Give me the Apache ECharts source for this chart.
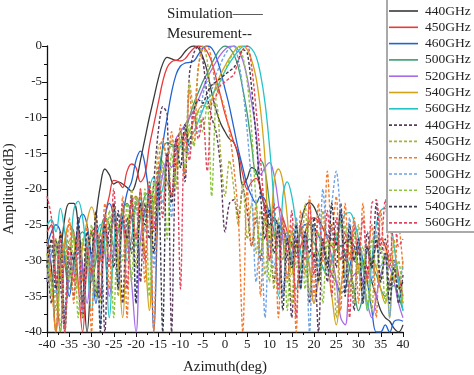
<!DOCTYPE html>
<html><head><meta charset="utf-8">
<script src="https://cdn.jsdelivr.net/npm/echarts@6/dist/echarts.min.js"></script>
<style>html,body{margin:0;padding:0;background:#fff}#c{width:474px;height:375px}</style>
</head><body><div id="c"></div>
<script>
// Azimuth samples (deg), -40..40 step 1
const azimuth = [-40,-39,-38,-37,-36,-35,-34,-33,-32,-31,-30,-29,-28,-27,-26,-25,-24,-23,-22,-21,-20,-19,-18,-17,-16,-15,-14,-13,-12,-11,-10,-9,-8,-7,-6,-5,-4,-3,-2,-1,0,1,2,3,4,5,6,7,8,9,10,11,12,13,14,15,16,17,18,19,20,21,22,23,24,25,26,27,28,29,30,31,32,33,34,35,36,37,38,39,40];
const seriesNames = ['440GHz','450GHz','460GHz','500GHz','520GHz','540GHz','560GHz'];
const xTicks = [-40,-35,-30,-25,-20,-15,-10,-5,0,5,10,15,20,25,30,35,40];
const yTicks = [-40,-35,-30,-25,-20,-15,-10,-5,0];

// Simulation (solid)
const sim440 = [-27,-31,-40,-30,-24,-22,-22,-25,-31,-40,-31,-24,-19.5,-17.2,-18,-19.3,-19,-19.3,-19.8,-20.3,-19,-16,-13,-10,-7.3,-4.6,-2.5,-1.6,-1.8,-2,-1.6,-0.8,-0.2,0,-0.3,-1.5,-3.5,-6.5,-9,-10.8,-12,-13,-13.5,-15.5,-19.5,-18.5,-17,-17.5,-20,-23,-25,-24,-25,-25.5,-27,-27.5,-29,-25,-22.5,-21.9,-22.5,-24,-25.5,-26.5,-27,-27.5,-28,-27.5,-27,-28,-29,-30,-31,-33,-35,-37,-38,-38.5,-39.5,-40,-39];
const sim450 = [-26,-25,-33,-40,-28,-25,-26,-33,-40,-30,-26,-25.5,-30,-24,-21,-18.8,-19,-19.8,-17.5,-16.5,-17,-19,-18,-14,-11,-8,-5,-3,-2.2,-2,-2.1,-1.8,-1,-0.3,0,-0.1,-0.8,-2.2,-4.5,-7,-9.5,-11.5,-13.5,-15,-18,-20,-19,-18.5,-20,-22.5,-24,-23,-22.5,-24,-26,-28,-29.5,-28,-26,-24.5,-24,-24.5,-25.5,-27,-28,-28.5,-28,-28.5,-29,-30,-30.5,-31,-32,-30,-28,-27,-28,-30,-30,-32,-35];
const sim460 = [-28,-26,-25,-26,-30,-35,-30,-25,-23.5,-25,-30,-36,-29,-24,-22,-24,-30,-24,-20.5,-19,-16,-14.7,-16.5,-22,-40,-22,-14,-10,-6.5,-4,-2.8,-2.4,-2.3,-2.1,-1.2,-0.3,0,-0.3,-1.5,-3.5,-6,-8.5,-11.5,-14.5,-17,-19.5,-21,-22,-21,-21.5,-23.5,-24.5,-25,-26,-27,-29,-28,-26,-25,-25,-25.5,-26.5,-28,-30,-32,-33,-34.5,-34,-31,-28.5,-28,-30,-33,-37,-40,-40,-39,-40,-38.5,-38.3,-38.5];
const sim500 = [-30,-33,-29,-27,-29,-34,-31,-27,-26,-28,-33,-30,-26,-24,-25,-28,-26,-23,-22,-24,-28,-24,-21,-20.5,-22,-18,-14.5,-13.5,-13.8,-14,-13.5,-12,-10,-8,-6.5,-5,-3.8,-2.5,-1.3,-0.4,0,-0.3,-1.2,-3,-6,-9.5,-14,-18,-16,-17.5,-22,-26,-28,-27,-27.5,-30,-34,-31,-28,-27,-27.5,-29,-31,-32,-30,-28.5,-28,-29,-31,-34,-37,-35,-32,-31,-32,-34,-35,-34,-33.5,-35,-37];
const sim520 = [-33,-29,-28,-31,-37,-32,-29,-28.5,-31,-36,-30,-27,-26.5,-29,-35,-29,-25.5,-25,-27,-33,-40,-27,-23,-22,-25,-22,-18,-16,-17,-13,-12,-11,-10,-9,-7.5,-6,-4.5,-3.3,-2.2,-1.2,-0.5,-0.05,0,-0.6,-2,-4.5,-8,-12,-18,-17,-16.3,-18,-22,-27,-32,-29,-27,-26.5,-28,-31,-36,-32,-29,-28,-29.5,-33,-38,-39,-33,-32,-31.5,-33,-36,-38,-35,-32,-30.5,-31,-33,-36,-38];
const sim540 = [-29,-33,-40,-32,-27,-25,-27,-34,-28,-24.5,-22.5,-25,-32,-27,-24,-24.5,-30,-38,-26,-22,-21,-23,-29,-37,-22,-19,-17,-19,-21,-17,-14,-13.5,-12,-10.5,-9,-8.3,-8.5,-7.5,-5.5,-4,-2.8,-1.7,-0.8,-0.1,0,-0.5,-2,-4.5,-9,-16,-30,-19,-17.2,-19,-24,-32,-28,-26,-27,-31,-36,-33,-30,-31,-35,-39,-34,-30,-28,-28.5,-31,-35,-32,-30,-31,-34,-36,-33,-31,-33,-36];
const sim560 = [-25,-24.3,-26,-22.7,-26,-30,-23,-21.7,-24,-30,-37,-28,-25,-28,-38,-28,-23.5,-25,-30,-27,-22,-21.5,-24,-20,-18.3,-21,-20,-15.5,-14,-14.5,-14,-14.5,-13,-12,-10.5,-9,-7.5,-6.8,-6,-4.8,-3.5,-2.4,-1.5,-0.7,-0.1,0,-0.4,-1.5,-4,-8,-14,-22,-35,-21,-19,-21,-25,-29,-31,-29.5,-29,-30,-31,-32,-30,-27,-25,-23.5,-23.3,-24.5,-27,-31,-37,-30,-25,-23,-22.7,-24,-28,-33,-37];

// Measurement (dashed)
const mea440 = [-30,-36,-27,-33,-40,-30,-35,-28,-38,-30,-26,-35,-27,-40,-25,-31,-23,-36,-24,-29,-21,-33,-22,-27,-19,-12,-8.5,-9.5,-40,-14,-12,-19,-4,-1,0,-2,-7,-10,-12,-17,-26,-22,-21.5,-24,-20,-23,-28,-24,-30,-22,-27,-33,-26,-35,-29,-38,-27,-33,-26,-36,-29,-40,-27,-33,-25,-31,-22,-30,-26,-37,-28,-34,-26,-31,-22,-29,-27,-34,-30,-36,-32];
const mea450 = [-31,-27,-37,-29,-40,-27,-33,-26,-38,-28,-32,-24,-36,-25,-30,-22,-35,-23,-28,-20,-31,-21,-26,-19,-24,-14,-13.5,-16,-13,-20,-12,-15,-5,-9,-3,0,-2,-8.5,-8,-15,-21,-16,-20,-25,-19,-27,-22,-29,-23,-32,-25,-34,-24,-30,-26,-36,-24,-31,-22,-35,-25,-33,-23,-30,-27,-38,-24,-32,-27,-36,-25,-31,-28,-37,-26,-33,-29,-38,-27,-34,-30];
const mea460 = [-27,-33,-40,-26,-31,-24,-36,-27,-33,-25,-40,-24,-30,-22,-34,-24,-29,-21,-38,-22,-27,-20,-33,-20,-40,-17,-13,-16,-12,-17,-11,-18,-6,-14,-3,-0.5,0,-2,-6,-7,-9,-12,-17,-24,-40,-20,-28,-22,-35,-23,-30,-26,-38,-24,-33,-25,-40,-23,-32,-21,-35,-22,-30,-17.5,-26,-21,-37,-22,-30,-24,-36,-22,-29,-25,-38,-23,-30,-24,-33,-25,-31];
const mea500 = [-33,-28,-35,-27,-38,-29,-32,-26,-37,-27,-31,-25,-39,-26,-30,-23,-33,-24,-29,-21,-36,-22,-26,-20,-31,-18,-22,-15,-24,-14,-17,-12,-15,-9,-12,-7,-5,-6,-4,-2.5,-1.2,-0.3,0,-2,-6,-12,-20,-33,-26,-38,-27,-31,-25,-35,-26,-30,-24,-34,-26,-40,-25,-31,-20,-27,-22,-17.5,-24,-33,-24,-30,-27,-36,-28,-33,-26,-31,-29,-38,-30,-33,-31];
const mea520 = [-29,-35,-27,-40,-28,-33,-26,-38,-27,-31,-25,-35,-26,-29,-23,-38,-25,-30,-22,-33,-21,-28,-20,-35,-19,-23,-16,-27,-15,-19,-13,-17,-11,-14,-9,-12,-8,-21,-7,-5,-3.5,-2,-0.8,0,-1.5,-5,-12,-22,-29,-24,-33,-26,-30,-24,-37,-26,-31,-25,-34,-24,-29,-26,-36,-27,-32,-26,-30,-25,-35,-26,-32,-28,-37,-27,-31,-28,-36,-29,-33,-30,-36];
const mea540 = [-31,-27,-34,-26,-39,-28,-30,-24,-36,-26,-29,-23,-40,-25,-28,-22,-34,-24,-27,-21,-36,-22,-25,-20,-29,-19,-40,-15,-22,-13,-17,-11,-14,-9,-7.5,-8,-6.5,-5.5,-5,-4.5,-4,-3.5,-3,-2,-0.5,-1,-6,-13,-21,-27,-23,-29,-25,-37,-27,-31,-25,-34,-26,-29,-24,-33,-27,-31,-22,-28,-23,-35,-25,-30,-27,-36,-28,-31,-27,-33,-29,-36,-31,-34,-33];
const mea560 = [-21,-24,-33,-27,-40,-28,-33,-26,-37,-28,-32,-25,-35,-24,-31,-20,-28,-22,-34,-21,-27,-20,-30,-19,-26,-17,-24,-15,-21,-13,-34,-12,-16,-9,-13,-10,-17.5,-8,-7,-5.5,-5,-4.5,-4,-2,-0.5,0,-3,-9,-16,-24,-30,-22,-34,-24,-29,-23,-38,-25,-30,-22,-32,-24,-28,-23,-35,-24,-30,-26,-38,-25,-29,-24,-33,-22,-21.5,-28,-21.5,-31,-24,-28,-27];

const simData = [sim440,sim450,sim460,sim500,sim520,sim540,sim560];
const meaData = [mea440,mea450,mea460,mea500,mea520,mea540,mea560];
const simColors = ['#3a3a3a','#e8393c','#2263d2','#3b9b6e','#a66ce8','#d4a31a','#25c4c8'];
const meaColors = ['#5c3b5e','#a9b13c','#f27a30','#6fa3e2','#8cc53e','#38384c','#e2465e'];

const zip = arr => azimuth.map((x,i)=>[x,arr[i]]);
const series = [];
const legendItems = [];
simData.forEach((d,i)=>{
  series.push({name: seriesNames[i]+' (sim)', type:'line', data: zip(d), symbol:'none', smooth:0.4,
    lineStyle:{color:simColors[i], width:1.3}});
  legendItems.push({text:seriesNames[i], color:simColors[i], dash:null});
});
meaData.forEach((d,i)=>{
  series.push({name: seriesNames[i]+' (mea)', type:'line', data: zip(d), symbol:'none', smooth:0.3,
    lineStyle:{color:meaColors[i], width:1.4, type:[3,2]}});
  legendItems.push({text:seriesNames[i], color:meaColors[i], dash:[3,2]});
});

const font = 'Liberation Serif';
const graphics = [
  {type:'text', left:167, top:7, style:{text:'Simulation——', font:'15px "Liberation Serif"', fill:'#222'}},
  {type:'text', left:167, top:27, style:{text:'Mesurement--', font:'15px "Liberation Serif"', fill:'#222'}},
  {type:'rect', z:100, shape:{x:387, y:-2, width:92, height:234},
    style:{fill:'#fff', stroke:'#aaa', lineWidth:2}}
];
legendItems.forEach((it,i)=>{
  const y = 11 + i*16.3;
  graphics.push({type:'line', z:101, shape:{x1:389, y1:y, x2:418, y2:y},
    style:{stroke:it.color, lineWidth:1.6, lineDash:it.dash}});
  graphics.push({type:'text', z:101, x:425, y:y,
    style:{text:it.text, font:'13.5px "Liberation Serif"', fill:'#222', textVerticalAlign:'middle', verticalAlign:'middle'}});
});

const chart = echarts.init(document.getElementById('c'), null, {renderer:'canvas'});
chart.setOption({
  animation:false,
  backgroundColor:'#fff',
  grid:{left:47, right:71, top:46, bottom:43, containLabel:false, outerBoundsMode:'none'},
  xAxis:{type:'value', min:-40, max:40, interval:5,
    name:'Azimuth(deg)', nameLocation:'middle', nameGap:28, nameMoveOverlap:false,
    nameTextStyle:{fontFamily:font, fontSize:15, color:'#222'},
    axisLine:{onZero:false, lineStyle:{color:'#111', width:1.3}},
    axisTick:{show:true, inside:false, length:5, lineStyle:{color:'#111'}},
    minorTick:{show:true, splitNumber:2, length:3, lineStyle:{color:'#111'}},
    splitLine:{show:false},
    axisLabel:{fontFamily:font, fontSize:13, color:'#222', margin:6,
      formatter: v => xTicks.includes(v) ? String(v) : ''}
  },
  yAxis:{type:'value', min:-40, max:0, interval:5,
    name:'Amplitude(dB)', nameLocation:'middle', nameGap:30, nameRotate:90, nameMoveOverlap:false,
    nameTextStyle:{fontFamily:font, fontSize:15, color:'#222'},
    axisLine:{show:true, onZero:false, lineStyle:{color:'#111', width:1.3}},
    axisTick:{show:true, inside:false, length:5, lineStyle:{color:'#111'}},
    minorTick:{show:true, splitNumber:2, length:3, lineStyle:{color:'#111'}},
    splitLine:{show:false},
    axisLabel:{fontFamily:font, fontSize:13, color:'#222', margin:5,
      formatter: v => yTicks.includes(v) ? String(v) : ''}
  },
  graphic: graphics,
  series: series
});
</script></body></html>
